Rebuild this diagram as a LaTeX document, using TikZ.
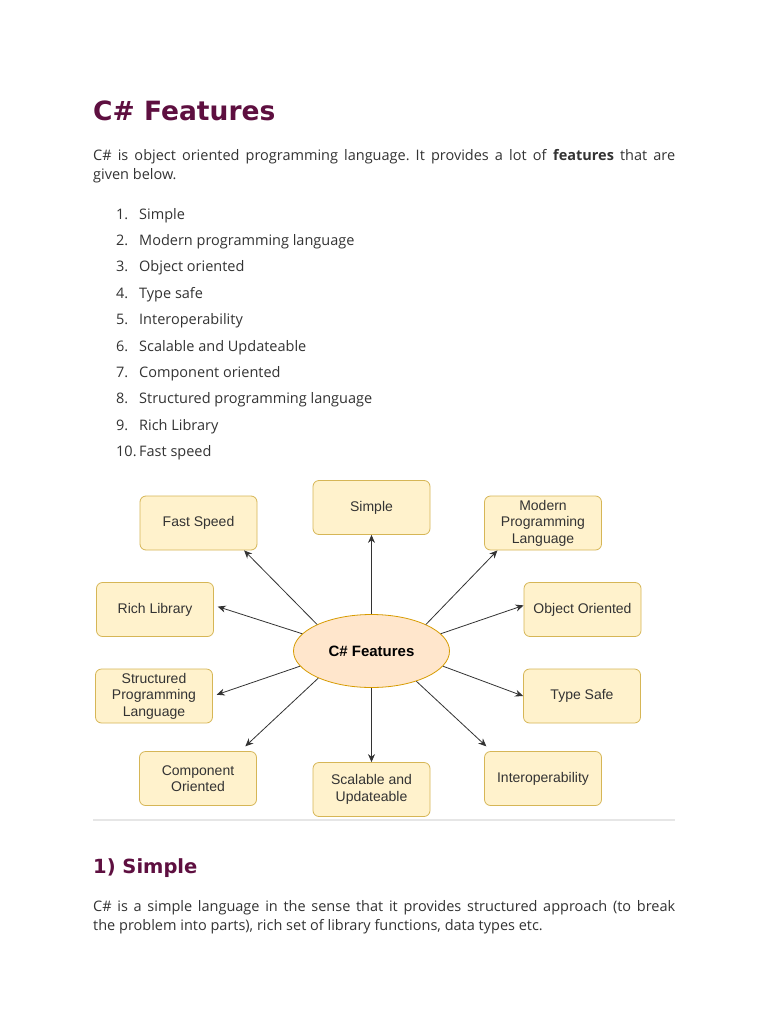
\documentclass[tikz,border=0pt]{standalone}
\usepackage{fontspec}
\setmainfont{Open Sans}
\newfontfamily\diagfont{Liberation Sans}
\newfontfamily\headfont{DejaVu Sans}
\usepackage{tikz}
\usetikzlibrary{arrows.meta, shapes.geometric}
\usepackage{xcolor}
\definecolor{headmaroon}{HTML}{5E0F40}
\definecolor{bodygray}{HTML}{333333}
\definecolor{boxfill}{HTML}{FFF2CC}
\definecolor{boxline}{HTML}{D6B656}
\definecolor{hubfill}{HTML}{FFE6CC}
\definecolor{hubline}{HTML}{D79B00}
\definecolor{rulegray}{HTML}{E6E6E6}
\frenchspacing

\begin{document}
\begin{tikzpicture}[x=1pt, y=-1pt,
  txt/.style={anchor=base west, inner sep=0pt, text=bodygray, font=\fontsize{14.5}{19}\selectfont},
  head/.style={anchor=base west, inner sep=0pt, text=headmaroon},
  featbox/.style={draw=boxline, fill=boxfill, line width=0.8pt, rounded corners=6pt,
    minimum width=117pt, minimum height=54pt, inner sep=0pt, align=center,
    text=bodygray, font=\diagfont\fontsize{14}{16.5}\selectfont},
  core/.style={ellipse, draw=hubline, fill=hubfill, line width=0.8pt, inner sep=0pt,
    minimum width=156pt, minimum height=73pt, text=black, font=\diagfont\bfseries\fontsize{15}{18}\selectfont},
  spoke/.style={draw=black!80, line width=0.8pt, -{Stealth[length=8pt, width=7pt]}}]
  \fill[white] (0,0) rectangle (768,1024);
  \useasboundingbox (0,0) rectangle (768,1024);
  \node[head, font=\headfont\bfseries\fontsize{26.5}{30}\selectfont] (title) at (93,121) {C\# Features};
  \node[txt] (introa) at (93,161) {\makebox[582pt][s]{C\# is object oriented programming language. It provides a lot of \textbf{features} that are}};
  \node[txt] (introb) at (93,180) {given below.};
  \foreach \n/\txt [count=\k from 0] in {1/Simple, 2/Modern programming language, 3/Object oriented,
      4/Type safe, 5/Interoperability, 6/Scalable and Updateable, 7/Component oriented,
      8/Structured programming language, 9/Rich Library, 10/Fast speed}
    { \node[txt] (num\n) at (116,{219+26.4*\k}) {\n.};
      \node[txt] (item\n) at (139,{219+26.4*\k}) {\txt}; }
  \node[featbox] (simple) at (371.5,507.5) {Simple};
  \node[featbox] (fast) at (198.5,523) {Fast Speed};
  \node[featbox] (modern) at (543,523) {Modern\\Programming\\Language};
  \node[featbox] (rich) at (155,609.5) {Rich Library};
  \node[featbox] (oo) at (582.5,609.5) {Object Oriented};
  \node[featbox] (struct) at (154,696) {Structured\\Programming\\Language};
  \node[featbox] (type) at (582,696) {Type Safe};
  \node[featbox] (comp) at (198,778.5) {Component\\Oriented};
  \node[featbox] (scal) at (371.5,789.5) {Scalable and\\Updateable};
  \node[featbox] (interop) at (543,778.5) {Interoperability};
  \node[core] (hub) at (371.5,651) {C\# Features};
  \draw[spoke] (hub.north) -- (simple.south);
  \draw[spoke] (hub.154) -- (fast.-31);
  \draw[spoke] (hub.26) -- (modern.211);
  \draw[spoke, shorten >=4pt] (hub.166) -- (rich.4);
  \draw[spoke] (hub.14) -- (oo.176);
  \draw[spoke, shorten >=4pt] (hub.192) -- (struct.east);
  \draw[spoke] (hub.-12) -- (type.west);
  \draw[spoke, shorten >=7pt] (hub.207) -- (comp.33);
  \draw[spoke] (hub.south) -- (scal.north);
  \draw[spoke, shorten >=7pt] (hub.-34) -- (interop.152);
  \draw[rulegray, line width=1.2pt] (93,820) -- (675,820);
  \node[head, font=\headfont\bfseries\fontsize{19.5}{23}\selectfont] (simplehead) at (93,873) {1) Simple};
  \node[txt] (simplea) at (93,911) {\makebox[582pt][s]{C\# is a simple language in the sense that it provides structured approach (to break}};
  \node[txt] (simpleb) at (93,930) {the problem into parts), rich set of library functions, data types etc.};
\end{tikzpicture}
\end{document}
